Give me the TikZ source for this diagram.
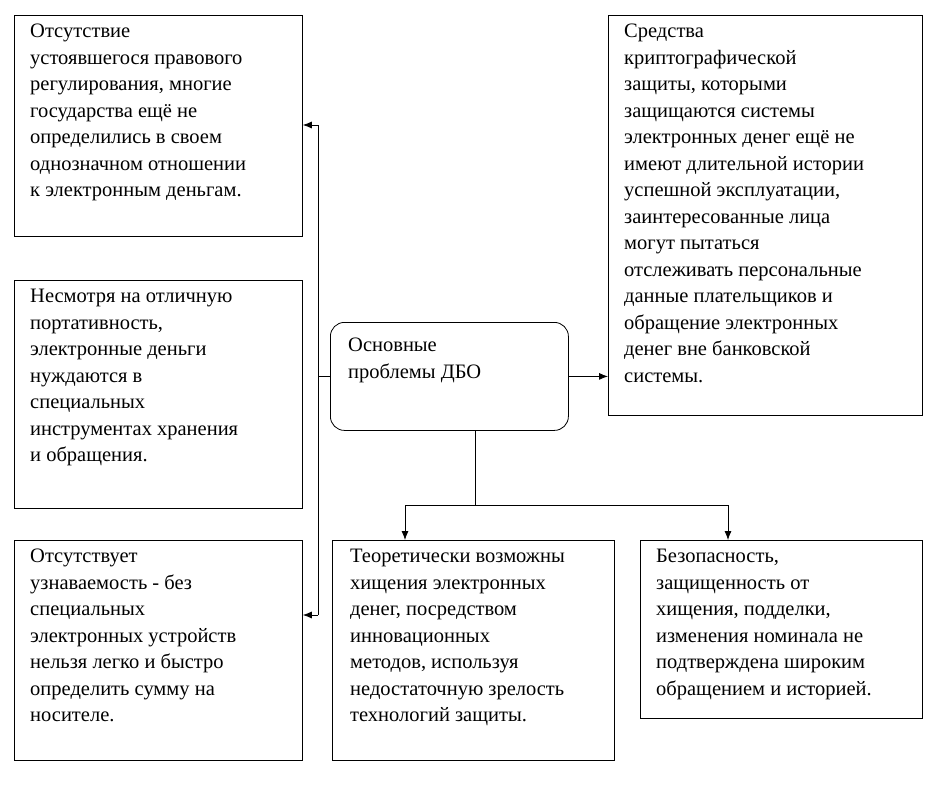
\documentclass[tikz,border=0pt]{standalone}
\usepackage{fontspec}
\setmainfont{Liberation Serif}
\usetikzlibrary{arrows.meta}
\tikzset{
    frame/.style={draw, thick, anchor=north west, inner sep=0pt},
    boxtext/.style={anchor=north west, align=left, inner sep=0pt,
        font=\fontsize{20.5}{26.5}\selectfont},
    link/.style={thick, -{Latex[length=9pt,width=7pt]}}
}
\begin{document}
\begin{tikzpicture}[x=1pt, y=-1pt]
    \useasboundingbox (0, 0) rectangle (934, 790);
    \node[frame, minimum width=288pt, minimum height=221pt] (TL) at (14, 15) {};
    \node[boxtext] (TLt) at (30, 24)
        {Отсутствие\\ устоявшегося правового\\ регулирования, многие\\ государства ещё не\\ определились в своем\\ однозначном отношении\\ к электронным деньгам.};
    \node[frame, minimum width=288pt, minimum height=228pt] (ML) at (14, 280) {};
    \node[boxtext] (MLt) at (30, 289)
        {Несмотря на отличную\\ портативность,\\ электронные деньги\\ нуждаются в\\ специальных\\ инструментах хранения\\ и обращения.};
    \node[frame, minimum width=288pt, minimum height=220pt] (BL) at (14, 540) {};
    \node[boxtext] (BLt) at (30, 549)
        {Отсутствует\\ узнаваемость - без\\ специальных\\ электронных устройств\\ нельзя легко и быстро\\ определить сумму на\\ носителе.};
    \node[frame, rounded corners=14pt, minimum width=238pt, minimum height=108pt] (C) at (330, 322) {};
    \node[boxtext] (Ct) at (348, 338) {Основные\\проблемы ДБО};
    \node[frame, minimum width=314pt, minimum height=400pt] (R) at (608, 15) {};
    \node[boxtext] (Rt) at (624, 24)
        {Средства\\ криптографической\\ защиты, которыми\\ защищаются системы\\ электронных денег ещё не\\ имеют длительной истории\\ успешной эксплуатации,\\ заинтересованные лица\\ могут пытаться\\ отслеживать персональные\\ данные плательщиков и\\ обращение электронных\\ денег вне банковской\\ системы.};
    \node[frame, minimum width=282pt, minimum height=220pt] (BM) at (332, 540) {};
    \node[boxtext] (BMt) at (350, 549)
        {Теоретически возможны\\ хищения электронных\\ денег, посредством\\ инновационных\\ методов, используя\\ недостаточную зрелость\\ технологий защиты.};
    \node[frame, minimum width=282pt, minimum height=178pt] (BR) at (640, 540) {};
    \node[boxtext] (BRt) at (656, 549)
        {Безопасность,\\ защищенность от\\ хищения, подделки,\\ изменения номинала не\\ подтверждена широким\\ обращением и историей.};

    % left bus
    \coordinate (busTop) at (318, 125);
    \coordinate (busBot) at (318, 615);
    \draw[thick] (busTop) -- (busBot);
    \draw[thick] (C.west) -- (C.west -| busTop);
    \draw[link] (busTop) -- (TL.east |- busTop);
    \draw[link] (busBot) -- (BL.east |- busBot);
    \draw[link] (C.east) -- (R.west |- C.east);

    % bottom fork
    \coordinate (fork) at (475, 505);
    \coordinate (forkL) at (405, 505);
    \coordinate (forkR) at (728, 505);
    \draw[thick] (C.south -| fork) -- (fork);
    \draw[thick] (forkL) -- (forkR);
    \draw[link] (forkL) -- (BM.north -| forkL);
    \draw[link] (forkR) -- (BR.north -| forkR);
\end{tikzpicture}
\end{document}
